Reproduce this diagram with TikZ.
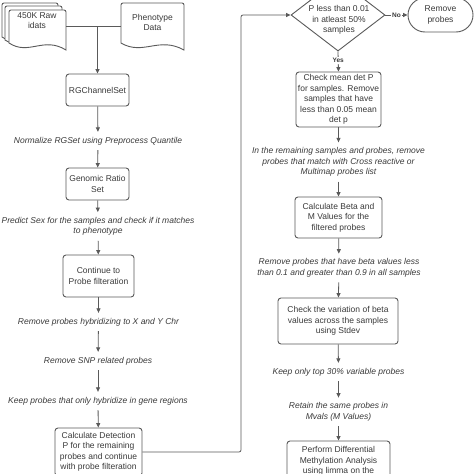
\documentclass[tikz,border=0pt]{standalone}
\usepackage{fontspec}
\setmainfont{Liberation Sans}
\usetikzlibrary{arrows.meta,shapes.geometric,shapes.misc}
\definecolor{ln}{HTML}{5A5A5A}
\definecolor{tx}{HTML}{3A3A3A}
\begin{document}
\begin{tikzpicture}[x=1pt,y=-1pt,
  every node/.style={text=tx,font=\fontsize{8.5}{10.5}\selectfont},
  box/.style={draw=ln,line width=0.9pt,rounded corners=3pt,align=center,inner sep=0pt,fill=white},
  step/.style={},
  stepbox/.style={align=center,inner xsep=0pt,inner ysep=5pt,font=\fontsize{8.5}{10.5}\selectfont\itshape},
  arr/.style={draw=ln,line width=0.8pt,-{Triangle[width=4pt,length=4.5pt]}},
  con/.style={draw=ln,line width=0.8pt},
  docline/.style={draw=ln,line width=0.9pt,fill=white},
  lab/.style={font=\fontsize{6.5}{8}\selectfont\bfseries,fill=white,inner sep=1pt}
]
\useasboundingbox (0,0) rectangle (474,474);
\clip (0,0) rectangle (474,474);
\fill[white] (0,0) rectangle (474,474);

% documents
\newcommand{\mydoc}[4]{%
  \draw[docline] (#1,{#4-7}) [rounded corners=2pt] -- (#1,#2) -- (#3,#2) [sharp corners] -- (#3,#4)
    .. controls ({#3-0.4*(#3-#1)},{#4-14}) and ({#1+0.35*(#3-#1)},{#4+6}) .. (#1,{#4-7}) -- cycle;}
\mydoc{2}{3}{58}{44}
\mydoc{5}{6}{62}{47}
\mydoc{9}{10}{66}{50}
\mydoc{121}{3}{184}{50}
\node[minimum width=57pt,minimum height=40pt,inner sep=0pt] (raw) at (37.5,30) {};
\node[minimum width=63pt,minimum height=47pt,inner sep=0pt] (pheno) at (152.5,26.5) {};
\node[align=center] (rawt) at (37,20.5) {450K Raw\\idats};
\node[align=center] (phenot) at (152.5,22.5) {Phenotype\\Data};
\coordinate (join) at (97.5,26);

% left column
\node[box,minimum width=63pt,minimum height=32pt] (rg) at (97.5,90) {RGChannelSet};
\node[stepbox] (t1) at (98,141) {Normalize RGSet using Preprocess Quantile};
\node[box,minimum width=63pt,minimum height=32pt] (grs) at (97.5,184) {Genomic Ratio\\Set};
\node[stepbox] (t2) at (98,226.5) {Predict Sex for the samples and check if it matches\\to phenotype};
\node[box,minimum width=71pt,minimum height=42pt] (cont) at (98.5,276) {Continue to\\Probe filteration};
\node[stepbox] (t3) at (98.5,322) {Remove probes hybridizing to X and Y Chr};
\node[stepbox] (t4) at (98,361) {Remove SNP related probes};
\node[stepbox] (t5) at (98,401) {Keep probes that only hybridize in gene regions};
\node[box,minimum width=87pt,minimum height=48pt] (det) at (98.5,452) {Calculate Detection\\P for the remaining\\probes and continue\\with probe filteration};

\draw[con] (raw.east |- join) -- (pheno.west |- join);
\draw[arr] (join) -- (rg);
\draw[arr] (rg) -- (t1);
\draw[arr] (t1) -- (grs);
\draw[arr] (grs) -- (t2);
\draw[arr] (t2) -- (cont);
\draw[arr] (cont) -- (t3);
\draw[arr] (t3) -- (t4);
\draw[arr] (t4) -- (t5);
\draw[arr] (t5) -- (det);

% right column
\node[diamond,draw=ln,line width=0.9pt,fill=white,minimum width=94pt,minimum height=72pt,inner sep=0pt,aspect=1.3] (dia) at (338,15) {};
\node[align=center] (diat) at (339,20) {P less than 0.01\\in atleast 50\%\\samples};
\node[rounded rectangle,draw=ln,line width=0.9pt,minimum width=65pt,minimum height=34pt,inner sep=0pt,align=center] (rem) at (440.5,15) {Remove\\probes};
\node[box,minimum width=85pt,minimum height=55pt] (chk) at (338.5,99.5) {Check mean det P\\for samples. Remove\\samples that have\\less than 0.05 mean\\det p};
\node[stepbox] (t6) at (338.5,162) {In the remaining samples and probes, remove\\probes that match with Cross reactive or\\Multimap probes list};
\node[box,minimum width=87pt,minimum height=41pt] (beta) at (338.5,217.5) {Calculate Beta and\\M Values for the\\filtered probes};
\node[stepbox] (t7) at (339,268) {Remove probes that have beta values less\\than 0.1 and greater than 0.9 in all samples};
\node[box,minimum width=120pt,minimum height=46pt] (var) at (338,321) {Check the variation of beta\\values across the samples\\using Stdev};
\node[stepbox] (t8) at (338.5,372) {Keep only top 30\% variable probes};
\node[stepbox] (t9) at (338.5,412) {Retain the same probes in\\Mvals (M Values)};
\node[box,minimum width=103pt,minimum height=40pt] (dma) at (338.5,461) {Perform Differential\\Methylation Analysis\\using limma on the};

\draw[arr] (dia.east) -- node[lab] {No} (rem.west);
\draw[arr] (dia.south) -- node[lab,pos=0.45] {Yes} (chk.north);
\draw[arr] (chk) -- (t6);
\draw[arr] (t6) -- (beta);
\draw[arr] (beta) -- (t7);
\draw[arr] (t7) -- (var);
\draw[arr] (var) -- (t8);
\draw[arr] (t8) -- (t9);
\draw[arr] (t9) -- (dma);

\coordinate (loopx) at (241,0);
\draw[arr,rounded corners=2pt] (det.east) -- (det.east -| loopx) -- (loopx |- dia.west) -- (dia.west);
\end{tikzpicture}
\end{document}
